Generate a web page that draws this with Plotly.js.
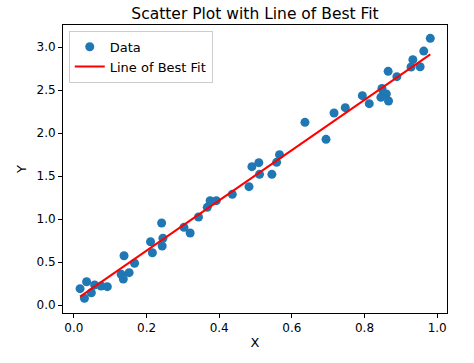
<!DOCTYPE html>
<html><head><meta charset="utf-8">
<script src="https://cdn.plot.ly/plotly-3.0.1.min.js"></script>
<style>html,body{margin:0;padding:0;background:#fff;}#chart{width:474px;height:363px;}</style>
</head><body><div id="chart"></div>
<script>
const dataX = [0.017,0.035,0.029,0.048,0.057,0.075,0.092,0.138,0.130,0.136,0.152,0.167,0.211,0.216,0.245,0.243,0.2415,0.303,0.320,0.343,0.367,0.375,0.392,0.436,0.482,0.490,0.509,0.511,0.545,0.558,0.566,0.636,0.694,0.716,0.747,0.794,0.813,0.848,0.852,0.845,0.860,0.866,0.865,0.889,0.928,0.933,0.953,0.963,0.981];
const dataY = [0.19,0.27,0.078,0.143,0.233,0.221,0.213,0.573,0.357,0.302,0.376,0.485,0.736,0.608,0.776,0.686,0.953,0.903,0.837,1.023,1.136,1.213,1.213,1.287,1.376,1.609,1.655,1.519,1.519,1.659,1.748,2.124,1.926,2.233,2.295,2.434,2.341,2.519,2.461,2.415,2.453,2.372,2.717,2.655,2.767,2.853,2.771,2.953,3.101];
const fitX = [0.017, 0.981];
const fitY = [0.097, 2.915];
const xTicks = [0.0,0.2,0.4,0.6,0.8,1.0];
const xTickText = ['0.0','0.2','0.4','0.6','0.8','1.0'];
const yTicks = [0.0,0.5,1.0,1.5,2.0,2.5,3.0];
const yTickText = ['0.0','0.5','1.0','1.5','2.0','2.5','3.0'];

const font = 'DejaVu Sans, sans-serif';
const traces = [
  {x: dataX, y: dataY, mode: 'markers', type: 'scatter', name: 'Data',
   marker: {color: '#1f77b4', size: 9}},
  {x: fitX, y: fitY, mode: 'lines', type: 'scatter', name: 'Line of Best Fit',
   line: {color: '#ff0000', width: 2}}
];
const axisCommon = {showline: true, mirror: true, linecolor: '#000', linewidth: 1,
  ticks: 'outside', ticklen: 4, tickcolor: '#000', showgrid: false, zeroline: false,
  tickfont: {family: font, size: 12, color: '#000'}};
const layout = {
  width: 474, height: 363,
  margin: {l: 63, r: 27, t: 25, b: 50},
  paper_bgcolor: '#fff', plot_bgcolor: '#fff',
  title: {text: 'Scatter Plot with Line of Best Fit', font: {family: font, size: 15.5, color: '#000'}, x: 0.538, xanchor: 'center', y: 0.962, yanchor: 'middle'},
  xaxis: Object.assign({}, axisCommon, {range: [-0.030, 1.027], tickvals: xTicks, ticktext: xTickText,
    title: {text: 'X', font: {family: font, size: 13, color: '#000'}, standoff: 3}}),
  yaxis: Object.assign({}, axisCommon, {range: [-0.093, 3.256], tickvals: yTicks, ticktext: yTickText,
    title: {text: 'Y', font: {family: font, size: 13, color: '#000'}, standoff: 6}}),
  showlegend: true,
  legend: {x: 0.015, y: 0.98, xanchor: 'left', yanchor: 'top', bgcolor: 'rgba(255,255,255,0.8)',
    bordercolor: '#ccc', borderwidth: 1, font: {family: font, size: 13, color: '#000'}}
};
Plotly.newPlot('chart', traces, layout, {displayModeBar: false, staticPlot: true});
</script></body></html>
